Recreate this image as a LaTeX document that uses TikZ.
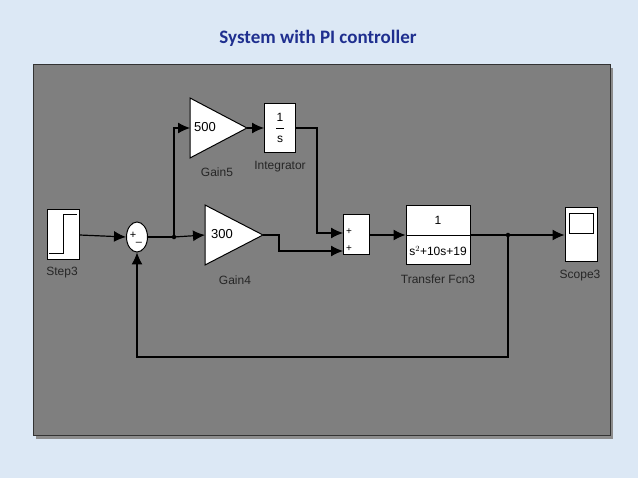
\documentclass[tikz,border=0pt]{standalone}
\usepackage{fontspec}
\setmainfont{Liberation Sans}
\newfontfamily\titlefont{Carlito}
\usetikzlibrary{arrows.meta,shapes.geometric}
\definecolor{bgblue}{HTML}{DCE8F5}
\definecolor{panel}{HTML}{7F7F7F}
\definecolor{titleblue}{HTML}{1F2F8F}
\begin{document}
\begin{tikzpicture}[x=1pt,y=-1pt,
  blk/.style={draw=black,fill=white,line width=1pt},
  lbl/.style={font=\fontsize{12}{12}\selectfont,text=black!85},
  wire/.style={line width=1.2pt},
  arr/.style={wire,-{Latex[length=12pt,width=11pt]}},
  dot/.style={circle,fill=black,inner sep=1.6pt}]
\useasboundingbox (0,0) rectangle (638,478);
\fill[bgblue] (0,0) rectangle (638,478);
\node[font=\titlefont\bfseries\fontsize{19}{19}\selectfont,text=titleblue] (title) at (318,38) {System with PI controller};
\fill[black!45] (36,68) rectangle (613,439);
\fill[panel,draw=black!80,line width=1pt] (33,65) rectangle (610,436);
% step
\node[blk,minimum width=32pt,minimum height=50pt] (step) at (63,235) {};
\draw[line width=0.9pt] (49,253) -- (63,253) -- (63,214) -- (77,214);
\node[lbl] (steplbl) at (62,273) {Step3};
% sum1
\node[blk,ellipse,minimum width=21pt,minimum height=30pt,inner sep=0pt] (sum1) at (137,237) {};
\node[font=\fontsize{11}{11}\selectfont] at (133,235) {+};
\node[font=\fontsize{11}{11}\selectfont] at (139,244) {--};
\coordinate (br1) at (174,237);
% gain5
\coordinate (g5in) at (190,128);
\coordinate (g5out) at (247,128);
\draw[blk] (190,98) -- (g5out) -- (190,158) -- cycle;
\node[font=\fontsize{13}{13}\selectfont] (g5t) at (205,127) {500};
\node[lbl] (g5l) at (217,172) {Gain5};
% gain4
\coordinate (g4in) at (205,235);
\coordinate (g4out) at (263,235);
\draw[blk] (205,205) -- (g4out) -- (205,265) -- cycle;
\node[font=\fontsize{13}{13}\selectfont] (g4t) at (222,234) {300};
\node[lbl] (g4l) at (235,280) {Gain4};
% integrator
\node[blk,minimum width=31pt,minimum height=49pt] (int) at (280,128) {};
\node[font=\fontsize{12}{12}\selectfont] at (280,117) {1};
\draw[line width=0.9pt] (276,128) -- (284,128);
\node[font=\fontsize{12}{12}\selectfont] at (280,139) {s};
\node[lbl] (intl) at (280,167) {Integrator};
% sum2
\node[blk,minimum width=26pt,minimum height=40pt] (sum2) at (356,235) {};
\node[font=\fontsize{10}{10}\selectfont] at (349,232) {+};
\node[font=\fontsize{10}{10}\selectfont] at (349,249) {+};
% transfer fcn
\node[blk,minimum width=64pt,minimum height=59pt] (tf) at (438,235) {};
\draw[line width=0.9pt] (406,235) -- (470,235);
\node[font=\fontsize{12}{12}\selectfont] at (438,220) {1};
\node[font=\fontsize{12}{12}\selectfont] at (438,251) {s$^2$+10s+19};
\node[lbl] (tfl) at (438,279) {Transfer Fcn3};
% scope
\node[blk,minimum width=32pt,minimum height=54pt] (scope) at (581,235) {};
\draw[line width=0.9pt,fill=white] (569,213) rectangle (593,233);
\node[lbl] (scl) at (580,276) {Scope3};
\coordinate (br2) at (508,235);
% wires
\draw[arr] (step.east) -- (sum1.west);
\draw[wire] (sum1.east) -- (br1);
\draw[arr] (br1) -- (g4in);
\draw[arr] (br1) |- (g5in);
\draw[arr] (g5out) -- (int.west);
\draw[arr] (int.east) -- (317,128) -- (317,233) -- (343,233);
\draw[arr] (g4out) -- (279,235) -- (279,251) -- (343,251);
\draw[arr] (sum2.east) -- (tf.west);
\draw[arr] (tf.east) -- (scope.west);
\draw[arr] (br2) -- (508,357) -- (137,357) -- (sum1.south);
\node[dot] at (br1) {};
\node[dot] at (br2) {};
\end{tikzpicture}
\end{document}
